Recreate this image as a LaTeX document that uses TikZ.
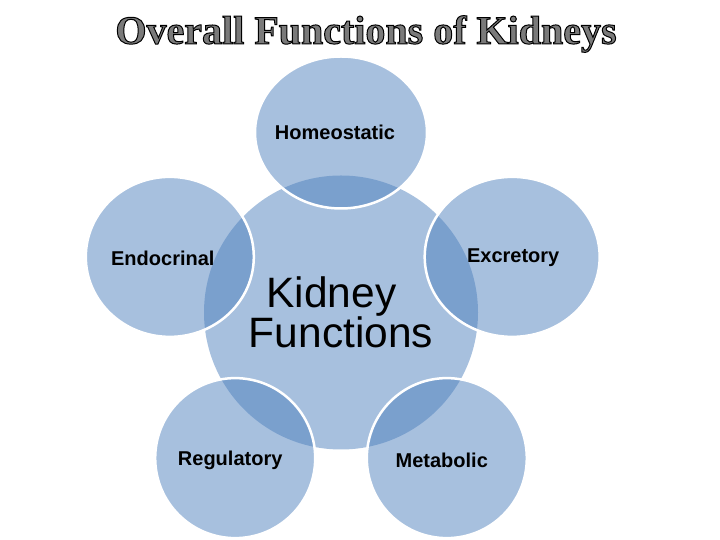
\documentclass[tikz,border=0pt]{standalone}
\usepackage{fontspec}
\setmainfont{Liberation Sans}
\newfontfamily\titlefont{Liberation Serif}
\usepackage{xcolor}
\usepackage{tikz}
\usetikzlibrary{shapes,backgrounds,fit}

\definecolor{accentblue}{RGB}{79,129,189}

\begin{document}
\begin{tikzpicture}[x=1pt,y=1pt]
      \tikzstyle{core}=[circle, fill=accentblue, fill opacity=0.5, text opacity=1, minimum size=274pt, inner sep=0pt, align=center, font=\fontsize{42.5}{40}\selectfont]
      \tikzstyle{petal}=[ellipse, fill=accentblue, fill opacity=0.5, draw=white, line width=2.5pt, minimum width=160pt, minimum height=160pt, inner sep=0pt]
      \tikzstyle{petal_text}=[draw=none, fill=none, inner sep=0pt, font=\fontsize{20}{22}\selectfont\bfseries]
      \tikzstyle{title_text}=[draw=none, fill=none, font=\titlefont\fontsize{40}{44}\selectfont\bfseries]

      \useasboundingbox (0,0) rectangle (720,540);

      \node [core] (kidney) at (341,227.5) {Kidney\hspace*{19pt}\\Functions};

      \node [petal, minimum width=172pt, minimum height=152pt] (homeo) at ([shift={(90:180)}]kidney.center) {};
      \node [petal, minimum width=168pt] (endo) at ([shift={(162:180)}]kidney.center) {};
      \node [petal, minimum width=175pt] (excr) at ([shift={(18:180)}]kidney.center) {};
      \node [petal] (regul) at ([shift={(234:180)}]kidney.center) {};
      \node [petal] (metab) at ([shift={(306:180)}]kidney.center) {};

      \node [petal_text] (homeo_t) at ([xshift=-6pt]homeo.center) {Homeostatic};
      \node [petal_text] (endo_t) at ([shift={(-7pt,-1pt)}]endo.center) {Endocrinal};
      \node [petal_text] (excr_t) at ([shift={(1pt,-1pt)}]excr.center) {Excretory};
      \node [petal_text] (regul_t) at ([shift={(-5pt,-2pt)}]regul.center) {Regulatory};
      \node [petal_text] (metab_t) at ([shift={(-5pt,-2pt)}]metab.center) {Metabolic};

      % title with outlined letters
      \node [title_text] (title) at (366,506) {\color{black!52}\special{pdf:code 2 Tr 1 w 0 0 0 RG}Overall Functions of Kidneys\special{pdf:code 0 Tr}};

    \end{tikzpicture}
\end{document}
